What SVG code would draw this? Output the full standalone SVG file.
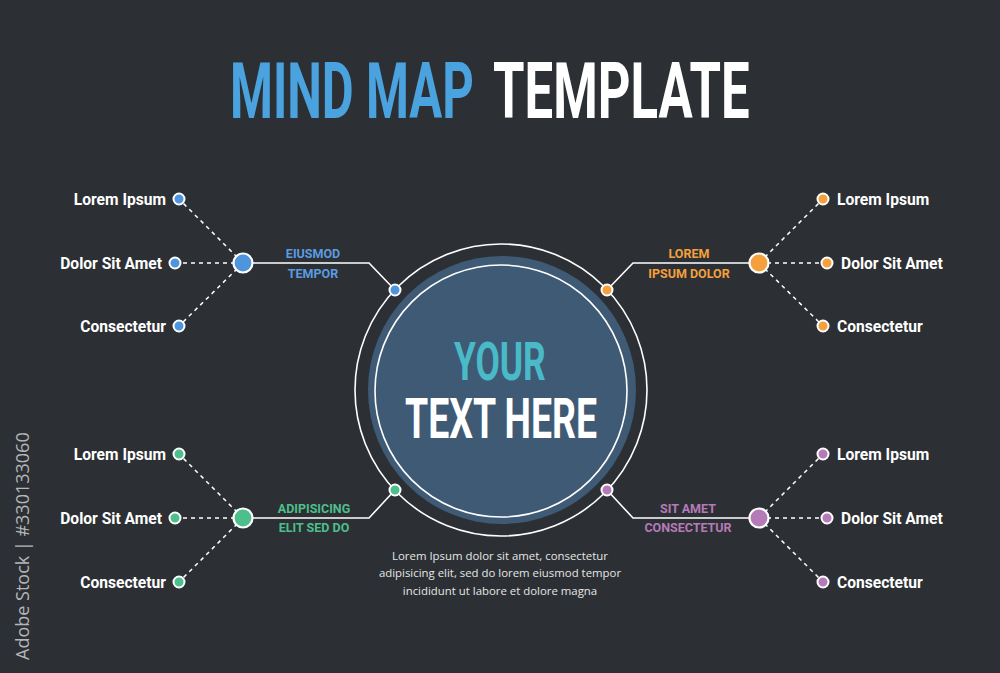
<svg xmlns="http://www.w3.org/2000/svg" width="1000" height="673" viewBox="0 0 1000 673">
<defs>
<style>
.title{font-family:Roboto,"Liberation Sans",sans-serif;font-weight:700}
.leaf{font-family:Roboto,"Liberation Sans",sans-serif;font-weight:700;font-size:15.6px;fill:#ffffff}
.cat{font-family:Roboto,"Liberation Sans",sans-serif;font-weight:700;font-size:12.5px;text-anchor:middle}
.para{font-family:"Open Sans","Liberation Sans",sans-serif;font-size:11.4px;fill:#e6e6e6;text-anchor:middle}
.solid{fill:none;stroke:#ffffff;stroke-width:1.6}
.dash{fill:none;stroke:#ffffff;stroke-width:1.5;stroke-dasharray:4 4}
.ring{stroke:#ffffff;stroke-width:2}
.big{stroke:#ffffff;stroke-width:2.2}
</style>
</defs>
<rect width="1000" height="673" fill="#2c3034"/>

<g id="title">
<text class="title" transform="translate(230,118) scale(0.64,1)" x="0" y="0" font-size="78" fill="#4aa3df" textLength="381" lengthAdjust="spacingAndGlyphs">MIND MAP</text>
<text class="title" transform="translate(493,118) scale(0.65,1)" x="0" y="0" font-size="78" fill="#ffffff" textLength="395" lengthAdjust="spacingAndGlyphs">TEMPLATE</text>
</g>

<g id="connectors">
<circle cx="501" cy="390" r="146" class="solid"/>
<polyline class="solid" points="395,290 369,263 243,263"/>
<polyline class="solid" points="607,290 633,263 759,263"/>
<polyline class="solid" points="395,490 369,518 243,518"/>
<polyline class="solid" points="607,490 633,518 759,518"/>
<line class="dash" x1="243" y1="263" x2="179" y2="199"/>
<line class="dash" x1="243" y1="263" x2="175" y2="263"/>
<line class="dash" x1="243" y1="263" x2="179" y2="326"/>
<line class="dash" x1="759" y1="263" x2="823" y2="199"/>
<line class="dash" x1="759" y1="263" x2="827" y2="263"/>
<line class="dash" x1="759" y1="263" x2="823" y2="326"/>
<line class="dash" x1="243" y1="518" x2="179" y2="454"/>
<line class="dash" x1="243" y1="518" x2="175" y2="518"/>
<line class="dash" x1="243" y1="518" x2="179" y2="582"/>
<line class="dash" x1="759" y1="518" x2="823" y2="454"/>
<line class="dash" x1="759" y1="518" x2="827" y2="518"/>
<line class="dash" x1="759" y1="518" x2="823" y2="582"/>
</g>

<g id="center">
<circle cx="502" cy="390" r="134" fill="#3e5a75"/>
<circle cx="501" cy="391" r="126" fill="none" stroke="#ffffff" stroke-width="1.6"/>
<text class="title" transform="translate(454,380) scale(0.68,1)" x="0" y="0" font-size="53" fill="#4ab9c8" textLength="135" lengthAdjust="spacingAndGlyphs">YOUR</text>
<text class="title" transform="translate(405,438) scale(0.66,1)" x="0" y="0" font-size="56" fill="#ffffff" textLength="291" lengthAdjust="spacingAndGlyphs">TEXT HERE</text>
</g>

<g id="blue-branch">
<circle cx="395" cy="290" r="5.5" fill="#4f95dd" class="ring"/>
<circle cx="243" cy="263" r="9.5" fill="#4f95dd" class="big"/>
<text class="cat" x="313" y="258" fill="#5b9be0">EIUSMOD</text>
<text class="cat" x="313" y="278" fill="#5b9be0">TEMPOR</text>
<circle cx="179" cy="199" r="5.5" fill="#4f95dd" class="ring"/>
<circle cx="175" cy="263" r="5.5" fill="#4f95dd" class="ring"/>
<circle cx="179" cy="326" r="5.5" fill="#4f95dd" class="ring"/>
<text class="leaf" x="166" y="204.5" text-anchor="end">Lorem Ipsum</text>
<text class="leaf" x="162" y="268.5" text-anchor="end">Dolor Sit Amet</text>
<text class="leaf" x="166" y="331.5" text-anchor="end">Consectetur</text>
</g>

<g id="orange-branch">
<circle cx="607" cy="290" r="5.5" fill="#f4a03c" class="ring"/>
<circle cx="759" cy="263" r="9.5" fill="#f4a03c" class="big"/>
<text class="cat" x="689" y="258" fill="#f4a03c">LOREM</text>
<text class="cat" x="689" y="278" fill="#f4a03c">IPSUM DOLOR</text>
<circle cx="823" cy="199" r="5.5" fill="#f4a03c" class="ring"/>
<circle cx="827" cy="263" r="5.5" fill="#f4a03c" class="ring"/>
<circle cx="823" cy="326" r="5.5" fill="#f4a03c" class="ring"/>
<text class="leaf" x="837" y="204.5">Lorem Ipsum</text>
<text class="leaf" x="841" y="268.5">Dolor Sit Amet</text>
<text class="leaf" x="837" y="331.5">Consectetur</text>
</g>

<g id="green-branch">
<circle cx="395" cy="490" r="5.5" fill="#4cbf8d" class="ring"/>
<circle cx="243" cy="518" r="9.5" fill="#4cbf8d" class="big"/>
<text class="cat" x="314" y="513" fill="#4cbf8d">ADIPISICING</text>
<text class="cat" x="314" y="532" fill="#4cbf8d">ELIT SED DO</text>
<circle cx="179" cy="454" r="5.5" fill="#4cbf8d" class="ring"/>
<circle cx="175" cy="518" r="5.5" fill="#4cbf8d" class="ring"/>
<circle cx="179" cy="582" r="5.5" fill="#4cbf8d" class="ring"/>
<text class="leaf" x="166" y="459.5" text-anchor="end">Lorem Ipsum</text>
<text class="leaf" x="162" y="523.5" text-anchor="end">Dolor Sit Amet</text>
<text class="leaf" x="166" y="587.5" text-anchor="end">Consectetur</text>
</g>

<g id="purple-branch">
<circle cx="607" cy="490" r="5.5" fill="#b57ab8" class="ring"/>
<circle cx="759" cy="518" r="9.5" fill="#b57ab8" class="big"/>
<text class="cat" x="688" y="513" fill="#b57ab8">SIT AMET</text>
<text class="cat" x="688" y="532" fill="#b57ab8">CONSECTETUR</text>
<circle cx="823" cy="454" r="5.5" fill="#b57ab8" class="ring"/>
<circle cx="827" cy="518" r="5.5" fill="#b57ab8" class="ring"/>
<circle cx="823" cy="582" r="5.5" fill="#b57ab8" class="ring"/>
<text class="leaf" x="837" y="459.5">Lorem Ipsum</text>
<text class="leaf" x="841" y="523.5">Dolor Sit Amet</text>
<text class="leaf" x="837" y="587.5">Consectetur</text>
</g>

<g id="description">
<text class="para" x="500" y="560">Lorem Ipsum dolor sit amet, consectetur</text>
<text class="para" x="500" y="577">adipisicing elit, sed do lorem eiusmod tempor</text>
<text class="para" x="500" y="595">incididunt ut labore et dolore magna</text>
</g>

<g id="credit">
<text x="0" y="0" transform="translate(29,660) rotate(-90)" font-family="'Open Sans','Liberation Sans',sans-serif" font-size="18" fill="#b4b6b8">Adobe Stock | #330133060</text>
</g>
</svg>
